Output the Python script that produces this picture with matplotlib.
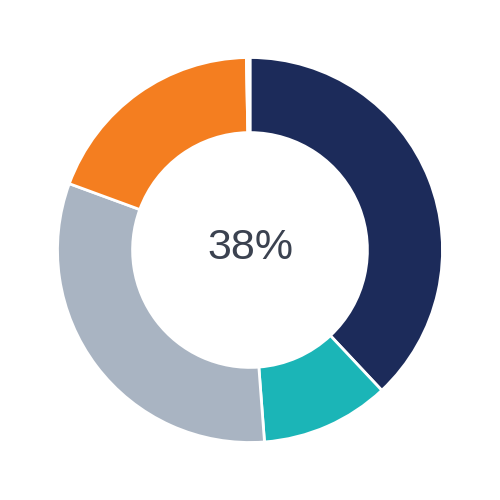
import matplotlib
matplotlib.use('Agg')
import matplotlib.pyplot as plt

labels = ['A', 'B', 'C', 'D', 'rest']
values = [38, 10.8, 31.8, 19.1, 0.3]
colors = ['#1c2b5a', '#1bb5b7', '#a9b4c2', '#f47e20', 'white']
center_text = '38%'

fig = plt.figure(figsize=(5, 5), dpi=100)
ax = fig.add_axes([0, 0, 1, 1])
ax.pie(values, colors=colors, startangle=90, counterclock=False,
       radius=1, wedgeprops=dict(width=0.39, edgecolor='white', linewidth=2))
ax.text(0, 0.01, center_text, ha='center', va='center', fontsize=31,
        color='#3b4250', family=['Liberation Sans', 'DejaVu Sans'])
lim = 250 / 192.5
ax.set_xlim(-lim, lim)
ax.set_ylim(-lim, lim)
ax.set_aspect('equal')
ax.axis('off')
fig.savefig('out.png', dpi=100, facecolor='white')
